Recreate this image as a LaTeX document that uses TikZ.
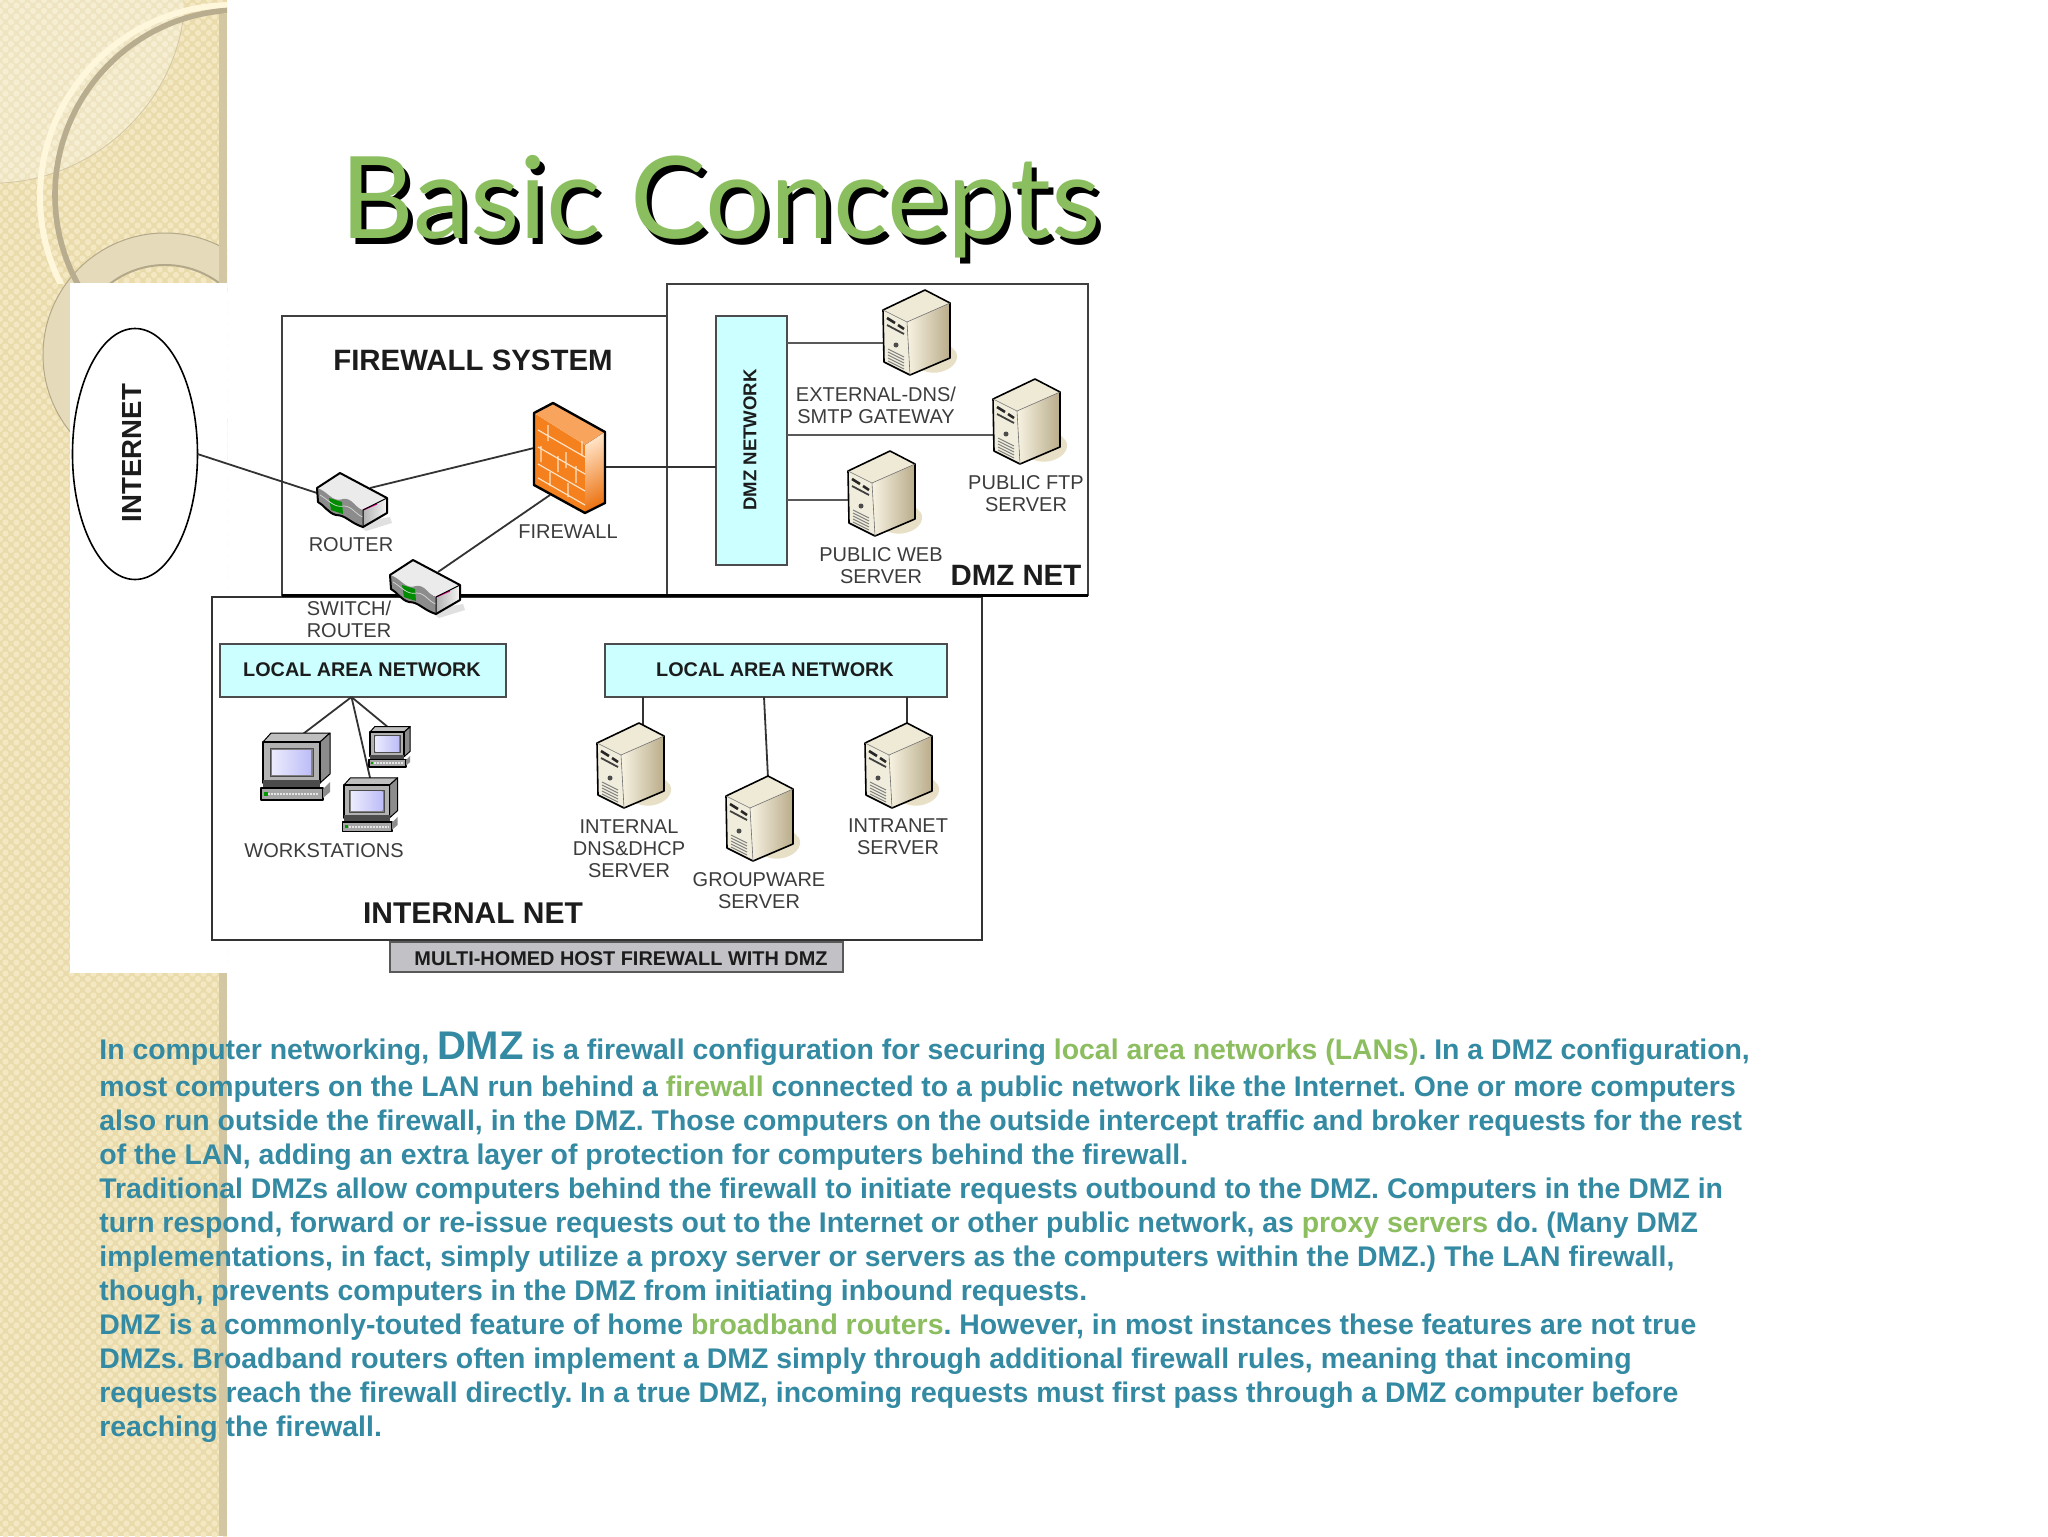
\documentclass[tikz,border=0pt]{standalone}
\usepackage{fontspec}
\setmainfont{Liberation Sans}
\newfontfamily\titlefont{Lato}
\usetikzlibrary{calc,shapes.geometric}
\frenchspacing
\definecolor{pbase}{HTML}{EADBAC}
\definecolor{pdot}{HTML}{F3E8C2}
\definecolor{strip}{HTML}{D3C7A3}
\definecolor{ringd}{HTML}{B9AD8F}
\definecolor{ringl}{HTML}{FFF7DC}
\definecolor{annul}{HTML}{E5DABA}
\definecolor{titleg}{HTML}{8ABE5F}
\definecolor{bodyb}{HTML}{338AA2}
\definecolor{bodyg}{HTML}{8CBE60}
\definecolor{aqua}{HTML}{CCFFFF}
\definecolor{capg}{HTML}{C2C2C6}
\definecolor{lab}{HTML}{3C3C3C}
\definecolor{head}{HTML}{1C1C1C}
\definecolor{scr}{HTML}{BDBDF8}
\definecolor{srvshadow}{HTML}{E8E0C6}
\definecolor{srvl}{HTML}{F7F2E2}
\definecolor{srvr}{HTML}{B9AC8A}
\definecolor{srvf}{HTML}{F1EDDC}
\definecolor{srvt}{HTML}{EFEAD6}
\definecolor{fwo}{HTML}{F4801E}
\definecolor{fwd}{HTML}{EC7414}
\definecolor{fwl}{HTML}{FFE2C4}
\definecolor{fwt}{HTML}{F9A45C}
\tikzset{
  x=.5pt,y=-.5pt,
  framed/.style={draw=#1,line width=1.2pt,fill=white},
  conn/.style={draw=black!80,line width=.9pt},
  connb/.style={draw=black!65,line width=1.2pt},
  bandbox/.style={draw=black!70,line width=1.1pt,fill=aqua,inner sep=0pt,outer sep=0pt},
  labelt/.style={text=lab,font=\fontsize{10}{11}\selectfont,align=center,inner sep=0pt},
  headt/.style={text=head,font=\fontsize{14.7}{16}\selectfont\bfseries,inner sep=0pt},
  bandt/.style={text=head,font=\fontsize{9.9}{11}\selectfont\bfseries,inner sep=0pt},
  bodyline/.style={anchor=base west,text=bodyb,inner sep=0pt,font=\fontsize{14.2}{16}\selectfont\bfseries},
  titlet/.style={anchor=base west,inner sep=0pt,font=\fontsize{57}{60}\selectfont\titlefont},
}
\newcommand{\gr}[1]{\textcolor{bodyg}{#1}}
% server: top vertex at #1,#2
\newcommand{\serverpic}[2]{%
\begin{scope}[shift={(#1,#2)},line join=round]
 \fill[srvshadow] (-10,76) .. controls (10,92) and (38,76) .. (31,62) -- (20,50) -- cycle;
 \fill[left color=srvl,right color=srvr] (-18,32) -- (25,13) -- (25,68) -- (-15,85) -- cycle;
 \fill[srvf] (-42,20) -- (-18,32) -- (-15,85) -- (-41,72) -- cycle;
 \fill[srvt] (0,0) -- (-42,20) -- (-18,32) -- (25,13) -- cycle;
 \draw[black,line width=.8pt] (0,0) -- (-42,20) -- (-41,72) -- (-15,85) -- (25,68) -- (25,13) -- cycle;
 \draw[black!55,line width=.3pt] (-42,20) -- (-18,32) -- (25,13) (-18,32) -- (-15,85);
 \draw[black!85,line width=1.3pt] (-38,28) -- (-30,33) (-27,35) -- (-21,39);
 \draw[black!75,line width=.9pt] (-38,35) -- (-21,44);
 \fill[black!70] (-29,55) circle (2.5);
 \foreach \k in {0,3,6,9,12}{\draw[black!50,line width=.55pt] (-37,{59+\k}) -- (-21,{67+\k});}
\end{scope}}
% router: top vertex at #1,#2
\newcommand{\routerpic}[2]{%
\begin{scope}[shift={(#1,#2)},line join=round]
 \fill[black!12] (15,50) -- (50,44) -- (52,50) -- (26,58) -- cycle;
 \fill[black!8] (0,0) -- (-23,15) .. controls (-12,18) and (-8,30) .. (3,26) .. controls (12,24) and (16,36) .. (23,37) -- (47,25) -- cycle;
 \fill[black!45] (-23,15) .. controls (-12,18) and (-8,30) .. (3,26) .. controls (12,24) and (16,36) .. (23,37) -- (23,54) .. controls (10,50) and (6,42) .. (-4,42) .. controls (-12,40) and (-16,32) .. (-22,29) -- cycle;
 \fill[left color=black!30,right color=black!4] (23,37) -- (47,25) -- (47,40) -- (23,54) -- cycle;
 \fill[green!55!black] (-11,25) -- (2,29) -- (3,41) -- (-9,37) -- cycle;
 \draw[magenta,line width=.6pt] (23,37) -- (37,31);
 \draw[black!15,line width=.35pt] (-20,22) .. controls (-10,28) and (-6,35) .. (4,33) .. controls (12,33) and (16,42) .. (23,44);
 \draw[black,line width=1pt] (0,0) -- (-23,15) -- (-22,29) .. controls (-16,32) and (-12,40) .. (-4,42) .. controls (6,42) and (10,50) .. (23,54) -- (47,40) -- (47,25) -- cycle;
 \draw[black,line width=.5pt] (47,25) -- (23,37) -- (23,54);
\end{scope}}
% workstation: front top-left at #1,#2, scale #3
\newcommand{\workpic}[3]{%
\begin{scope}[shift={(#1,#2)},scale=#3,line join=round]
 \fill[black!25,draw=black,line width=.5pt] (0,0) -- (8,-9) -- (67,-9) -- (57,0) -- cycle;
 \fill[black!45,draw=black,line width=.5pt] (57,0) -- (67,-9) -- (67,32) -- (57,41) -- cycle;
 \fill[black!30,draw=black,line width=.8pt] (0,0) rectangle (57,41);
 \fill[black!70] (0,38) rectangle (57,45);
 \fill[black!50,draw=black!70,line width=.3pt] (7,6) rectangle (50,34);
 \fill[left color=white!70!scr,right color=scr] (9,8) rectangle (48,32);
 \fill[black!35,draw=black,line width=.8pt] (-2,46) rectangle (60,58);
 \fill[black!45] (60,47) -- (67,40) -- (67,50) -- (60,56) -- cycle;
 \draw[black!10,line width=.9pt,dash pattern=on 1pt off .5pt] (2,52) -- (56,52);
 \fill[green!60!black] (1,50) rectangle (5,54);
\end{scope}}
\begin{document}
\begin{tikzpicture}
\useasboundingbox (0,0) rectangle (2048,1536);
\fill[white] (0,0) rectangle (2048,1536);
% sidebar
\begin{scope}
 \clip (0,0) rectangle (227,1536);
 \fill[pbase] (0,0) rectangle (227,1536);
 \foreach \j in {0,...,279}{
   \pgfmathsetmacro{\xs}{mod(\j,2)*5.5}
   \draw[pdot,line width=3.1pt,line cap=round,dash pattern=on 0pt off 5.5pt] (\xs,{\j*5.5}) -- (240,{\j*5.5});
 }
 % leaf
 \fill[white,fill opacity=.27] (0,0) -- (183,0) -- (183,20) .. controls (170,110) and (90,180) .. (0,183) -- cycle;
 \draw[strip,line width=.4pt] (183,20) .. controls (170,110) and (90,180) .. (0,183);
 % lower circle band
 \fill[annul,even odd rule] (165,355) circle (122) (165,355) circle (90);
 \draw[strip!85!black,line width=.5pt] (165,355) circle (122);
 \draw[strip!85!black,line width=1pt] (165,355) circle (90);
 \fill[strip] (219,14) rectangle (227,283);
 \fill[strip] (219,973) rectangle (227,1536);
 \begin{scope}
  \clip (0,0) rectangle (227,283);
  \draw[ringl,line width=3pt] (232,197) circle (192);
  \draw[ringd,line width=2.8pt] (240,195) circle (185);
 \end{scope}
\end{scope}
% white panel of the picture
\fill[white] (70,283) rectangle (227,973);
% title
\node[titlet,text=black] (titleshadow) at (345,244) {Basic Concepts};
\node[titlet,text=titleg] (title) at (340,238) {Basic Concepts};
% frames
\draw[framed=black!75] (282,316) rectangle (667,595);
\draw[framed=black!75] (667,284) rectangle (1088,595);
\draw[framed=black!80] (212,597) rectangle (982,940);
\draw[black,line width=1.5pt] (282,595.5) -- (1088,595.5);
% caption
\node[draw=black!65,line width=1.1pt,fill=capg,inner sep=0pt,outer sep=0pt,minimum width=226.5pt,minimum height=15pt] (capbox) at (616.5,957) {};
\node[bandt,font=\fontsize{9.95}{11}\selectfont\bfseries] (captext) at (621,959) {MULTI-HOMED HOST FIREWALL WITH DMZ};
% internet
\node[draw=black,line width=.8pt,fill=white,ellipse,inner sep=0pt,outer sep=0pt,minimum width=62.5pt,minimum height=125.5pt] (internet) at (135,454) {};
\node[headt,font=\fontsize{13.8}{15}\selectfont\bfseries,rotate=90] (internettext) at (132,453) {INTERNET};
% band boxes
\node[bandbox,minimum width=35.5pt,minimum height=124.5pt] (dmz) at (751.5,440.5) {};
\node[bandt,font=\fontsize{9.3}{10}\selectfont\bfseries,rotate=90] (dmztext) at (750,440) {DMZ NETWORK};
\node[bandbox,minimum width=143pt,minimum height=26.5pt] (lanA) at (363,670.5) {};
\node[bandt] (lanAtext) at (362,669.5) {LOCAL AREA NETWORK};
\node[bandbox,minimum width=171pt,minimum height=26.5pt] (lanB) at (776,670.5) {};
\node[bandt] (lanBtext) at (775,669.5) {LOCAL AREA NETWORK};
% headings
\node[headt] (fwsys) at (473,360) {FIREWALL SYSTEM};
\node[headt] (dmznet) at (1016,575) {DMZ NET};
\node[headt,font=\fontsize{15}{16}\selectfont\bfseries] (intnet) at (473,913) {INTERNAL NET};
% connector ends
\coordinate (routerW) at (317,493);
\coordinate (routerE) at (370,488);
\coordinate (switchE) at (438,572);
\coordinate (fwW) at (534,448);
\coordinate (fwS) at (550,495);
\coordinate (fwE) at (605,467);
\coordinate (srvExt) at (884,343);
\coordinate (srvFtp) at (994,435);
\coordinate (srvWeb) at (849,500);
\coordinate (srvDns) at (643,725);
\coordinate (srvGrp) at (768,778);
\coordinate (srvInt) at (907,725);
\coordinate (wsBig) at (299,737);
\coordinate (wsMed) at (371,782);
\coordinate (wsSmall) at (389,728);
\coordinate (lanAfan) at (351.5,697);
\coordinate (lanBa) at (643,697);
\coordinate (lanBb) at (764,697);
\coordinate (lanBc) at (907,697);
\draw[conn] (internet.east) -- (routerW);
\draw[conn] (routerE) -- (fwW);
\draw[conn] (switchE) -- (fwS);
\draw[conn] (fwE) -- (dmz.west |- fwE);
\draw[connb] (dmz.east |- srvExt) -- (srvExt);
\draw[connb] (dmz.east |- srvFtp) -- (srvFtp);
\draw[connb] (dmz.east |- srvWeb) -- (srvWeb);
\draw[conn] (lanBa) -- (srvDns);
\draw[conn] (lanBb) -- (srvGrp);
\draw[conn] (lanBc) -- (srvInt);
\draw[conn] (lanAfan) -- (wsBig);
\draw[conn] (lanAfan) -- (wsMed);
\draw[conn] (lanAfan) -- (wsSmall);
% firewall
\begin{scope}[line join=round]
 \fill[fwo] (534,413) -- (585,445) -- (585,513) -- (534,485) -- cycle;
 \fill[fwt] (534,413) -- (553,403) -- (605,432) -- (585,445) -- cycle;
 \fill[top color=fwl,bottom color=fwd,shading angle=30] (585,445) -- (605,432) -- (605,503) -- (585,513) -- cycle;
 \draw[fwl,line width=.6pt]
   (538,430) -- (585,457) (538,447) -- (585,474) (538,464) -- (585,491) (538,478) -- (585,505)
   (548,425) -- (548,441) (566,452) -- (566,468) (541,446) -- (541,462) (558,456) -- (558,472) (576,466) -- (576,483)
   (550,472) -- (550,486) (568,483) -- (568,497) (582,441)-- (582,456);
 \draw[black,line width=1.2pt] (534,413) -- (553,403) -- (605,432) -- (605,503) -- (585,513) -- (534,485) -- cycle;
\end{scope}
% routers
\routerpic{340}{473}
\routerpic{413}{560}
% servers
\serverpic{925}{290}
\serverpic{1035}{379}
\serverpic{890}{451}
\serverpic{639}{723}
\serverpic{768}{776}
\serverpic{907}{723}
% workstations
\workpic{263}{742}{1}
\workpic{344}{785}{.8}
\workpic{370}{732}{.6}
% labels
\node[labelt] (lRouter) at (351,545) {ROUTER};
\node[labelt] (lFirewall) at (568,532) {FIREWALL};
\node[labelt] (lSwitch) at (349,619) {SWITCH/\\ROUTER};
\node[labelt] (lExt) at (876,405) {EXTERNAL-DNS/\\SMTP GATEWAY};
\node[labelt] (lFtp) at (1026,494) {PUBLIC FTP\\SERVER};
\node[labelt] (lWeb) at (881,566) {PUBLIC WEB\\SERVER};
\node[labelt] (lDns) at (629,849) {INTERNAL\\DNS\&DHCP\\SERVER};
\node[labelt] (lGrp) at (759,891) {GROUPWARE\\SERVER};
\node[labelt] (lInt) at (898,837) {INTRANET\\SERVER};
\node[labelt] (lWork) at (324,851) {WORKSTATIONS};
% body
\node[bodyline] (b1) at (99,1059) {In computer networking, {\fontsize{20}{20}\selectfont DMZ} is a firewall configuration for securing \gr{local area networks (LANs)}. In a DMZ configuration,};
\node[bodyline] (b2) at (99,1096) {most computers on the LAN run behind a \gr{firewall} connected to a public network like the Internet. One or more computers};
\node[bodyline] (b3) at (99,1130) {also run outside the firewall, in the DMZ. Those computers on the outside intercept traffic and broker requests for the rest};
\node[bodyline] (b4) at (99,1164) {of the LAN, adding an extra layer of protection for computers behind the firewall.};
\node[bodyline] (b5) at (99,1198) {Traditional DMZs allow computers behind the firewall to initiate requests outbound to the DMZ. Computers in the DMZ in};
\node[bodyline] (b6) at (99,1232) {turn respond, forward or re-issue requests out to the Internet or other public network, as \gr{proxy servers} do. (Many DMZ};
\node[bodyline] (b7) at (99,1266) {implementations, in fact, simply utilize a proxy server or servers as the computers within the DMZ.) The LAN firewall,};
\node[bodyline] (b8) at (99,1300) {though, prevents computers in the DMZ from initiating inbound requests.};
\node[bodyline] (b9) at (99,1334) {DMZ is a commonly-touted feature of home \gr{broadband routers}. However, in most instances these features are not true};
\node[bodyline] (b10) at (99,1368) {DMZs. Broadband routers often implement a DMZ simply through additional firewall rules, meaning that incoming};
\node[bodyline] (b11) at (99,1402) {requests reach the firewall directly. In a true DMZ, incoming requests must first pass through a DMZ computer before};
\node[bodyline] (b12) at (99,1436) {reaching the firewall.};
\end{tikzpicture}
\end{document}
